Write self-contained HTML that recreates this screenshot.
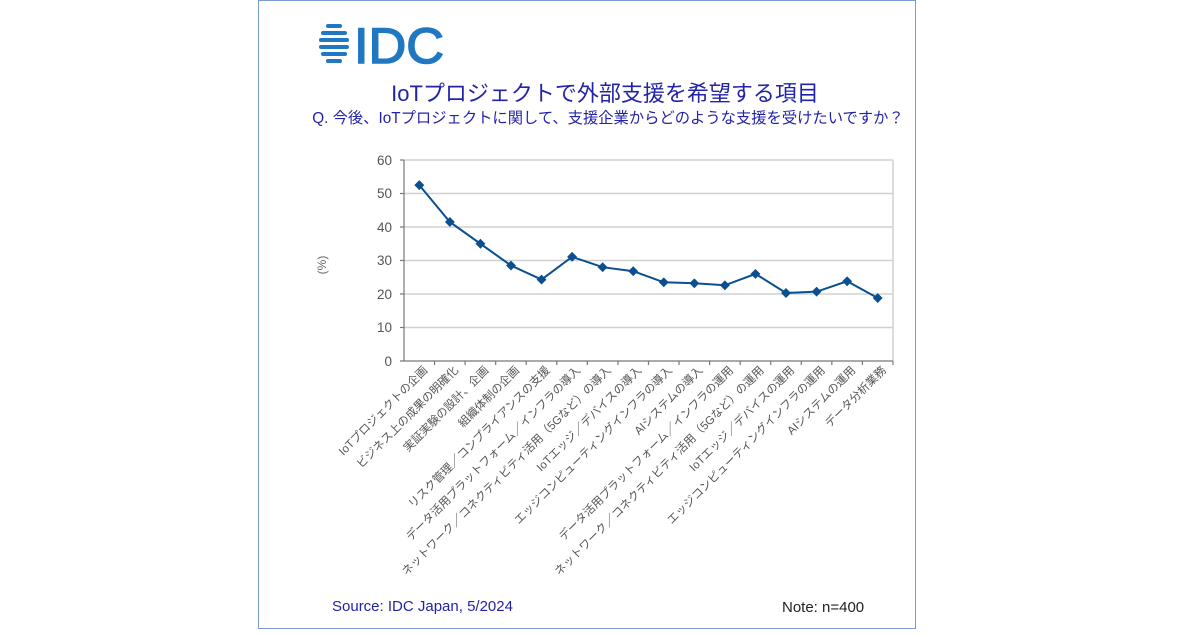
<!DOCTYPE html>
<html><head><meta charset="utf-8"><style>
body{margin:0;background:#fff;width:1200px;height:630px;overflow:hidden;font-family:"Liberation Sans","Noto Sans CJK JP",sans-serif}
</style></head><body>
<svg width="1200" height="630" xmlns="http://www.w3.org/2000/svg" font-family="Liberation Sans, Noto Sans CJK JP, sans-serif">
<rect x="258.5" y="0.5" width="657" height="628" fill="#fff" stroke="#7a9ad6" stroke-width="1"/>
<!-- logo -->
<g fill="#1f78c1">
<rect x="326" y="24" width="16" height="4" rx="2"/>
<rect x="321" y="31" width="26" height="4" rx="2"/>
<rect x="319" y="38" width="30" height="4" rx="2"/>
<rect x="319" y="45" width="30" height="4" rx="2"/>
<rect x="321" y="52" width="26" height="4" rx="2"/>
<rect x="326" y="59" width="16" height="4" rx="2"/>
</g>
<text x="354" y="63" font-size="50" fill="#1f78c1" stroke="#1f78c1" stroke-width="1.5" textLength="90" lengthAdjust="spacingAndGlyphs">IDC</text>
<text x="605" y="101" font-size="22" fill="#2323a8" text-anchor="middle">IoTプロジェクトで外部支援を希望する項目</text>
<text x="608" y="123" font-size="15.3" fill="#2323a8" text-anchor="middle">Q. 今後、IoTプロジェクトに関して、支援企業からどのような支援を受けたいですか？</text>
<!-- grid -->
<g stroke="#d0d0d0" stroke-width="1.5">
<line x1="404" y1="160" x2="893" y2="160"/><line x1="404" y1="193.5" x2="893" y2="193.5"/>
<line x1="404" y1="227" x2="893" y2="227"/><line x1="404" y1="260.5" x2="893" y2="260.5"/>
<line x1="404" y1="294" x2="893" y2="294"/><line x1="404" y1="327.5" x2="893" y2="327.5"/>
<line x1="893" y1="160" x2="893" y2="361"/>
</g>
<g stroke="#777" stroke-width="1.2">
<line x1="404" y1="160" x2="404" y2="361"/><line x1="400" y1="361" x2="893" y2="361"/>
<line x1="400" y1="160" x2="404" y2="160"/><line x1="400" y1="193.5" x2="404" y2="193.5"/><line x1="400" y1="227" x2="404" y2="227"/><line x1="400" y1="260.5" x2="404" y2="260.5"/><line x1="400" y1="294" x2="404" y2="294"/><line x1="400" y1="327.5" x2="404" y2="327.5"/>
</g>
<g id="ticks" stroke="#777" stroke-width="1.2"></g>
<g font-size="13.5" fill="#555" text-anchor="end">
<text x="392" y="165">60</text><text x="392" y="198">50</text><text x="392" y="232">40</text><text x="392" y="265">30</text><text x="392" y="299">20</text><text x="392" y="332">10</text><text x="392" y="366">0</text>
</g>
<text transform="translate(326,265) rotate(-90)" font-size="12" fill="#666" text-anchor="middle">(%)</text>
<g id="series"></g>
<g id="labels" font-size="11.5" fill="#555" text-anchor="end"></g>
<text x="332" y="611" font-size="15" fill="#2323a8">Source: IDC Japan, 5/2024</text>
<text x="782" y="612" font-size="15" fill="#222">Note: n=400</text>
</svg>
<script>
var v=[52.5,41.5,35,28.5,24.3,31.1,28,26.8,23.5,23.2,22.6,26,20.3,20.7,23.8,18.8];
var L=["IoTプロジェクトの企画","ビジネス上の成果の明確化","実証実験の設計、企画","組織体制の企画","リスク管理／コンプライアンスの支援","データ活用プラットフォーム／インフラの導入","ネットワーク／コネクティビティ活用（5Gなど）の導入","IoTエッジ／デバイスの導入","エッジコンピューティングインフラの導入","AIシステムの導入","データ活用プラットフォーム／インフラの運用","ネットワーク／コネクティビティ活用（5Gなど）の運用","IoTエッジ／デバイスの運用","エッジコンピューティングインフラの運用","AIシステムの運用","データ分析業務"];
var ns="http://www.w3.org/2000/svg",s=document.getElementById("series"),t=document.getElementById("ticks"),lb=document.getElementById("labels");
var pts=[];
for(var i=0;i<16;i++){var x=419.3+30.56*i,y=361-v[i]*3.35;pts.push(x+","+y);
var d=document.createElementNS(ns,"rect");d.setAttribute("x",x-3.5);d.setAttribute("y",y-3.5);d.setAttribute("width",7);d.setAttribute("height",7);d.setAttribute("fill","#0a4f8f");d.setAttribute("transform","rotate(45 "+x+" "+y+")");s.appendChild(d);
var tk=document.createElementNS(ns,"line");var tx=404+30.56*(i+1);tk.setAttribute("x1",tx);tk.setAttribute("x2",tx);tk.setAttribute("y1",361);tk.setAttribute("y2",365);t.appendChild(tk);
var te=document.createElementNS(ns,"text");te.setAttribute("transform","translate("+(x+9)+",371) rotate(-45)");te.textContent=L[i];lb.appendChild(te);}
var pl=document.createElementNS(ns,"polyline");pl.setAttribute("points",pts.join(" "));pl.setAttribute("fill","none");pl.setAttribute("stroke","#0a4f8f");pl.setAttribute("stroke-width","2");s.insertBefore(pl,s.firstChild);
</script>
</body></html>
